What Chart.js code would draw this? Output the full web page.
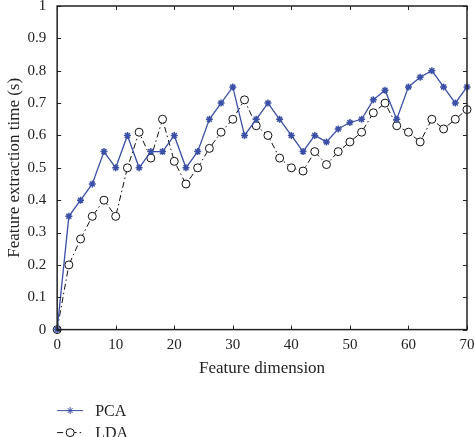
<!DOCTYPE html>
<html>
<head>
<meta charset="utf-8">
<script src="https://cdn.jsdelivr.net/npm/chart.js@4/dist/chart.umd.min.js"></script>
<style>
  html, body { margin: 0; padding: 0; background: #fff; }
  #wrap { width: 474px; height: 437px; }
</style>
</head>
<body>
<div id="wrap"><canvas id="featChart" width="474" height="437"></canvas></div>
<script>
// feature dimension (x) and extraction times
const dims = [0, 2, 4, 6, 8, 10, 12, 14, 16, 18, 20, 22, 24, 26, 28, 30, 32, 34,
    36, 38, 40, 42, 44, 46, 48, 50, 52, 54, 56, 58, 60, 62, 64, 66, 68, 70];
const pcaTimes = [0, 0.35, 0.40, 0.45, 0.55, 0.50, 0.60, 0.50, 0.55, 0.55, 0.60, 0.50, 0.55, 0.65, 0.70, 0.75, 0.60, 0.65,
    0.70, 0.65, 0.60, 0.55, 0.60, 0.58, 0.62, 0.64, 0.65, 0.71, 0.74, 0.65, 0.75, 0.78, 0.80, 0.75, 0.70, 0.75];
const ldaTimes = [0, 0.20, 0.28, 0.35, 0.40, 0.35, 0.50, 0.61, 0.53, 0.65, 0.52, 0.45, 0.50, 0.56, 0.61, 0.65, 0.71, 0.63,
    0.60, 0.53, 0.50, 0.49, 0.55, 0.51, 0.55, 0.58, 0.61, 0.67, 0.70, 0.63, 0.61, 0.58, 0.65, 0.62, 0.65, 0.68];
const xTicks = [0, 10, 20, 30, 40, 50, 60, 70];
const seriesNames = ["PCA", "LDA"];

const blue = "#3b4fa6";
const serif = "'Liberation Serif', 'DejaVu Serif', serif";

// matlab style box with inward ticks on all sides
const boxTicks = {
    id: "boxTicks",
    afterDraw(chart) {
        const { ctx, chartArea: a, scales } = chart;
        ctx.save();
        ctx.strokeStyle = "#222";
        ctx.lineWidth = 1;
        ctx.beginPath();
        scales.x.ticks.forEach(t => {
            const px = Math.round(scales.x.getPixelForValue(t.value)) + 0.5;
            ctx.moveTo(px, a.bottom); ctx.lineTo(px, a.bottom - 4);
            ctx.moveTo(px, a.top); ctx.lineTo(px, a.top + 4);
        });
        scales.y.ticks.forEach(t => {
            const py = Math.round(scales.y.getPixelForValue(t.value)) + 0.5;
            ctx.moveTo(a.left, py); ctx.lineTo(a.left + 4, py);
            ctx.moveTo(a.right, py); ctx.lineTo(a.right - 4, py);
        });
        ctx.stroke();
        ctx.lineWidth = 1.5;
        ctx.strokeRect(a.left, a.top, a.right - a.left, a.bottom - a.top);
        ctx.restore();
    }
};

// legend under the axis title, line + marker like the original
const bottomLegend = {
    id: "bottomLegend",
    afterDraw(chart) {
        const { ctx, chartArea: a } = chart;
        ctx.save();
        ctx.font = "16px " + serif;
        ctx.textBaseline = "middle";
        chart.data.datasets.forEach((ds, i) => {
            const y = a.bottom + 81 + i * 22;
            const x0 = a.left, x1 = a.left + 26;
            ctx.strokeStyle = ds.borderColor;
            ctx.lineWidth = 1;
            ctx.setLineDash(ds.borderDash || []);
            ctx.beginPath(); ctx.moveTo(x0, y); ctx.lineTo(x1, y); ctx.stroke();
            ctx.setLineDash([]);
            ctx.fillStyle = ds.pointBackgroundColor || ds.borderColor;
            Chart.helpers.drawPoint(ctx, {
                pointStyle: ds.pointStyle, radius: ds.pointRadius, borderWidth: 1
            }, (x0 + x1) / 2, y);
            ctx.fillStyle = "#222";
            ctx.fillText(seriesNames[i], x1 + 12, y + 1);
        });
        ctx.restore();
    }
};

new Chart(document.getElementById("featChart"), {
    type: "line",
    data: {
        datasets: [
            {
                label: seriesNames[0],
                data: dims.map((d, i) => ({ x: d, y: pcaTimes[i] })),
                borderColor: blue,
                backgroundColor: blue,
                borderWidth: 1.3,
                pointStyle: "star",
                pointRadius: 3.5,
                pointBorderWidth: 1.5,
                pointBorderColor: blue,
                pointBackgroundColor: blue,
                tension: 0,
                clip: false
            },
            {
                label: seriesNames[1],
                data: dims.map((d, i) => ({ x: d, y: ldaTimes[i] })),
                borderColor: "#111",
                backgroundColor: "#fff",
                borderWidth: 1,
                borderDash: [6, 3, 1.5, 3],
                pointStyle: "circle",
                pointRadius: 4,
                pointBorderWidth: 1,
                pointBorderColor: "#111",
                pointBackgroundColor: "#fff",
                tension: 0,
                clip: false
            }
        ]
    },
    options: {
        responsive: false,
        animation: false,
        layout: { padding: { left: 0, right: 7, top: 6, bottom: 54 } },
        plugins: {
            legend: { display: false },
            tooltip: { enabled: false }
        },
        scales: {
            x: {
                type: "linear",
                min: 0,
                max: 70,
                afterBuildTicks: axis => { axis.ticks = xTicks.map(v => ({ value: v })); },
                grid: { display: false },
                border: { display: false },
                ticks: { color: "#222", font: { family: serif, size: 15 }, padding: -2, maxRotation: 0 },
                title: { display: true, text: "Feature dimension", color: "#222", font: { family: serif, size: 17 }, padding: { top: 7 } }
            },
            y: {
                min: 0,
                max: 1,
                afterFit: axis => { axis.paddingTop = 0; },
                grid: { display: false },
                border: { display: false },
                ticks: {
                    stepSize: 0.1, color: "#222", font: { family: serif, size: 15 }, padding: 3,
                    callback: v => String(Math.round(v * 10) / 10)
                },
                title: { display: true, text: "Feature extraction time (s)", color: "#222", font: { family: serif, size: 17 }, padding: { bottom: 0 } }
            }
        }
    },
    plugins: [boxTicks, bottomLegend]
});
</script>
</body>
</html>
